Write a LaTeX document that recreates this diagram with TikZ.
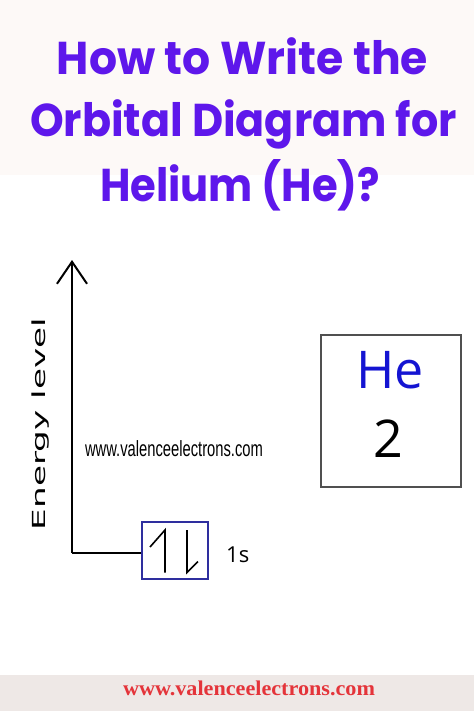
\documentclass[tikz,border=0pt]{standalone}
\usepackage{fontspec}
\usepackage{graphicx}
\usetikzlibrary{arrows.meta}
\newfontfamily\poppins{Poppins}
\newfontfamily\dejavu{DejaVu Sans}
\newfontfamily\libsans{Liberation Sans}
\newfontfamily\opensans{Open Sans}
\newfontfamily\libserif{Liberation Serif}
\definecolor{titlepurple}{HTML}{5E17EB}
\definecolor{titlebg}{HTML}{FDF9F7}
\definecolor{footbg}{HTML}{EEE8E6}
\definecolor{footred}{HTML}{E4343A}
\definecolor{orbblue}{HTML}{2E2E9E}
\definecolor{heblue}{HTML}{1414D2}
\definecolor{hegray}{HTML}{505050}
\newsavebox\fitbox
\newlength\fitlen
\newcommand\fitw[2]{\sbox\fitbox{#2}\fitlen=\wd\fitbox\pgfmathsetmacro\fitfac{#1/\fitlen}\scalebox{\fitfac}[1]{\usebox\fitbox}}
\begin{document}
\begin{tikzpicture}[x=1pt,y=-1pt,
  titletext/.style={anchor=base,inner sep=0pt,text=titlepurple,font=\poppins\bfseries\fontsize{46}{46}\selectfont},
  axisline/.style={line width=2pt,black},
  orbbox/.style={draw=orbblue,line width=1.5pt,minimum width=66pt,minimum height=57pt,inner sep=0pt},
  spin/.style={line width=1.6pt,black,line join=miter},
  plain/.style={anchor=base,inner sep=0pt}]
\useasboundingbox (0,0) rectangle (474,711);
\fill[white] (0,0) rectangle (474,711);
\fill[titlebg] (0,0) rectangle (474,175);
\fill[footbg] (0,675) rectangle (474,711);
% title
\node[titletext] (t1) at (242.5,75) {\fitw{371}{How to Write the}};
\node[titletext] (t2) at (243.5,137) {\fitw{427}{Orbital Diagram for}};
\node[titletext] (t3) at (240,202) {\fitw{280}{Helium (He)?}};
% axis
\coordinate (o) at (72,553);
\coordinate (top) at (72,260);
\draw[axisline,-{Straight Barb[length=22pt,width=30pt,line width=2pt]}] (o) -- (top);
\node[plain,rotate=90,font=\dejavu\fontsize{18}{18}\selectfont] (elab) at (45,424) {\fitw{212}{Energy level}};
\node[plain,font=\libsans\fontsize{22}{22}\selectfont] (wm) at (174,456) {\fitw{178}{www.valenceelectrons.com}};
% orbital box
\node[orbbox] (b1s) at (175,550.5) {};
\draw[axisline] (o) -- (o -| b1s.west);
\draw[spin] ([xshift=-10pt,yshift=-22pt]b1s.center) -- ([xshift=-10pt,yshift=20.5pt]b1s.center) -- ([xshift=-25pt,yshift=3.5pt]b1s.center);
\draw[spin] ([xshift=12pt,yshift=20.5pt]b1s.center) -- ([xshift=12pt,yshift=-22pt]b1s.center) -- ([xshift=23pt,yshift=-11pt]b1s.center);
\node[plain,anchor=base west,font=\opensans\fontsize{22}{22}\selectfont] (l1s) at (226,562) {1s};
% element box
\node[draw=hegray,line width=1.5pt,minimum width=140pt,minimum height=152pt,inner sep=0pt] (he) at (391,411) {};
\node[plain,text=heblue,font=\opensans\fontsize{52}{52}\selectfont] (hesym) at (390,388) {He};
\node[plain,font=\opensans\fontsize{52}{52}\selectfont] (henum) at (388,457) {2};
% footer
\node[plain,text=footred,font=\libserif\bfseries\fontsize{21}{21}\selectfont] (foot) at (249,695) {\fitw{252}{www.valenceelectrons.com}};
\end{tikzpicture}
\end{document}
